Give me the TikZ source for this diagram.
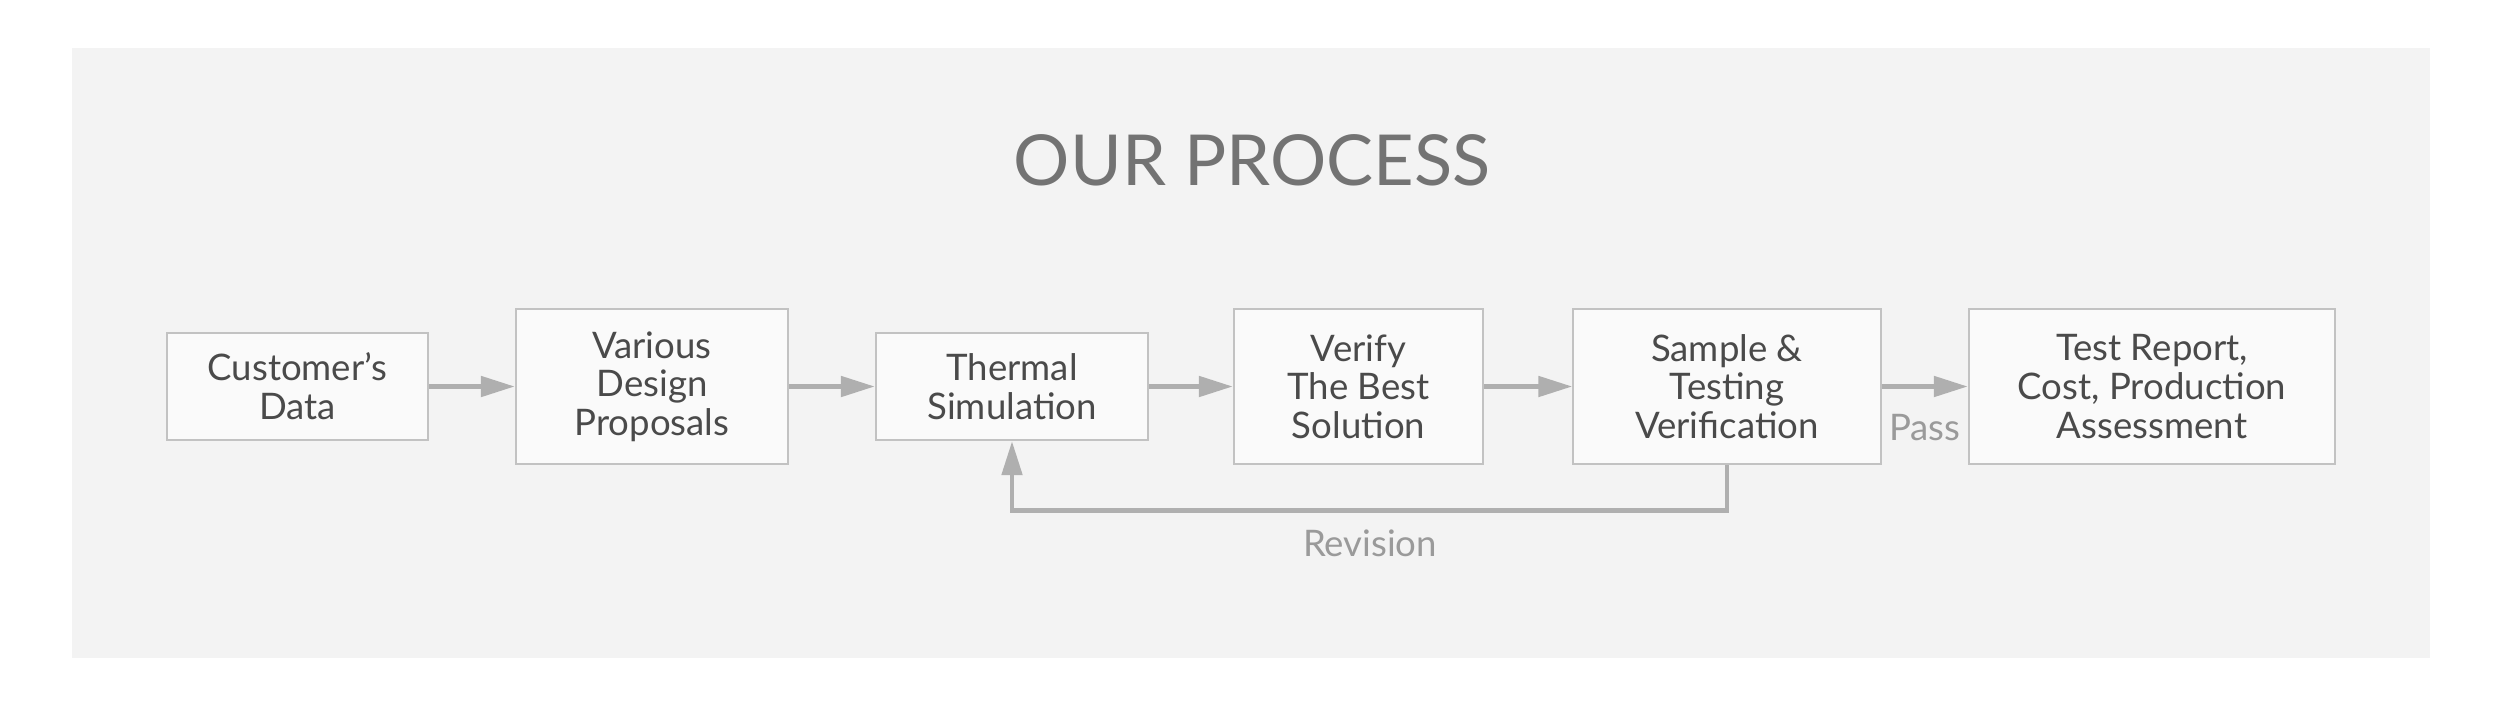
\documentclass[tikz,border=0pt]{standalone}
\usepackage{fontspec}
\setmainfont{Lato}
\usetikzlibrary{arrows.meta}
\definecolor{bgc}{HTML}{F3F3F3}
\definecolor{boxfill}{HTML}{FAFAFA}
\definecolor{boxline}{HTML}{C2C2C2}
\definecolor{arrc}{HTML}{AFAFAF}
\definecolor{txt}{HTML}{4A4A4A}
\definecolor{lbl}{HTML}{9A9A9A}
\definecolor{ttl}{HTML}{737373}
\tikzset{
  stepbox/.style={draw=boxline, line width=0.6pt, fill=boxfill, align=center, inner sep=0pt,
    text=txt, font=\fontsize{10.4}{11}\selectfont},
  flow/.style={draw=arrc, line width=1.4pt, -{Triangle[length=0.34cm,width=0.2cm]}},
  lab/.style={text=lbl, font=\fontsize{10.4}{11}\selectfont}
}
\begin{document}
\begin{tikzpicture}[x=0.01cm,y=-0.01cm]
\path[use as bounding box, fill=white] (0,0) rectangle (2500,715);
\fill[bgc] (72,48) rectangle (2430,658);
\node[text=ttl, font=\fontsize{20}{24}\selectfont] (title) at (1252,160) {OUR PROCESS};
\node[stepbox, minimum width=2.61cm, minimum height=1.07cm] (b1) at (297.5,386.5) {Customer’s\\Data};
\node[stepbox, minimum width=2.72cm, minimum height=1.55cm] (b2) at (652,386.5) {Various\\Design\\Proposals};
\node[stepbox, minimum width=2.72cm, minimum height=1.07cm] (b3) at (1012,386.5) {Thermal\\Simulation};
\node[stepbox, minimum width=2.49cm, minimum height=1.55cm] (b4) at (1358.5,386.5) {Verify\\The Best\\Solution};
\node[stepbox, minimum width=3.07cm, minimum height=1.55cm] (b5) at (1727,386.5) {Sample \&\\Testing\\Verification};
\node[stepbox, minimum width=3.66cm, minimum height=1.55cm] (b6) at (2152,386.5) {Test Report,\\Cost, Production\\Assessment};
\draw[flow] (b1) -- (b2);
\draw[flow] (b2) -- (b3);
\draw[flow] (b3) -- (b4);
\draw[flow] (b4) -- (b5);
\draw[flow] (b5) -- (b6);
\draw[flow] (b5.south) -- ++(0,45) -| (b3.south);
\node[lab] (pass) at (1925,428) {Pass};
\node[lab] (rev) at (1370,543) {Revision};
\end{tikzpicture}
\end{document}
